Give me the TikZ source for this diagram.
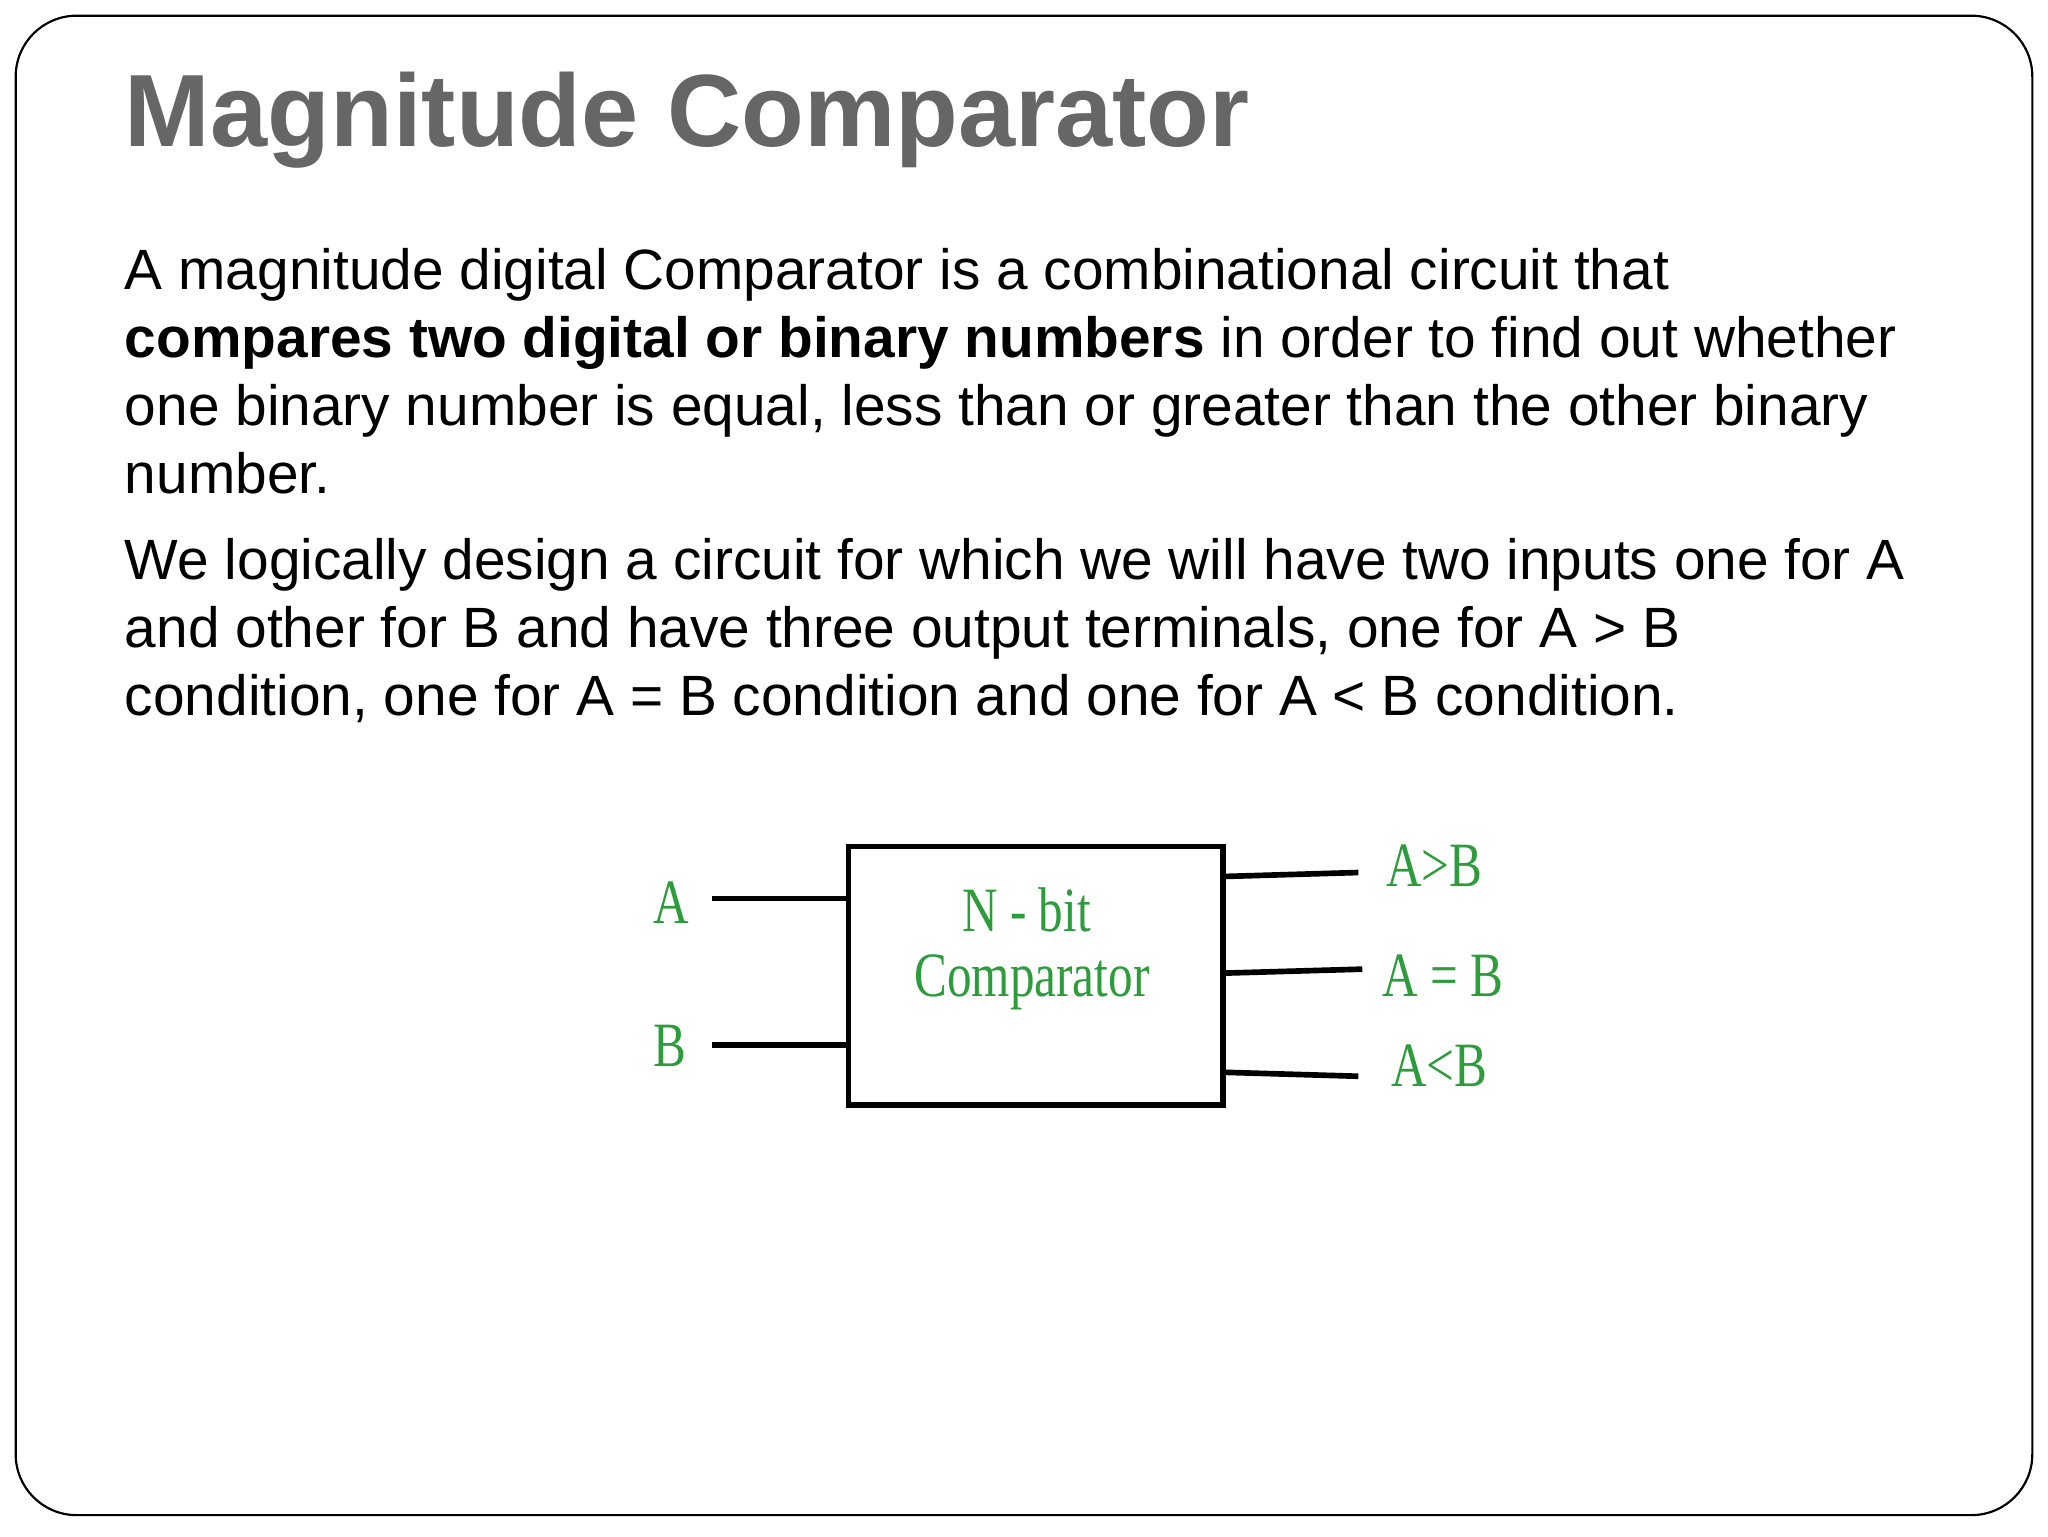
\documentclass[tikz,border=0pt]{standalone}
\usepackage{fontspec}
\setmainfont{Liberation Sans}
\newfontfamily\serifgreen{Liberation Serif}
\definecolor{titlegray}{HTML}{666666}
\definecolor{labgreen}{HTML}{2E9B3C}
\newcommand{\cond}[1]{\scalebox{0.78}[1]{#1}}
\begin{document}
\begin{tikzpicture}[x=0.3pt,y=-0.3pt,
  body/.style={anchor=base west,inner sep=0pt,font=\fontsize{13.05}{16}\selectfont},
  wire/.style={line width=1.3pt},
  glab/.style={text=labgreen,font=\serifgreen\fontsize{14.5}{16}\selectfont,inner sep=0pt}]
\useasboundingbox (0,0) rectangle (1568,1176);
\draw[line width=0.5pt,rounded corners=14pt] (12,12) rectangle (1556,1160);
\node[anchor=base west,inner sep=0pt,text=titlegray,font=\fontsize{23.6}{28}\selectfont\bfseries] (title) at (95,112) {Magnitude Comparator};
\node[body] (l1) at (95,222) {A magnitude digital Comparator is a combinational circuit that};
\node[body] (l2) at (95,274) {\textbf{compares two digital or binary numbers} in order to find out whether};
\node[body] (l3) at (95,326) {one binary number is equal, less than or greater than the other binary};
\node[body] (l4) at (95,378) {number.};
\node[body] (l5) at (95,444) {We logically design a circuit for which we will have two inputs one for A};
\node[body] (l6) at (95,496) {and other for B and have three output terminals, one for A > B};
\node[body] (l7) at (95,548) {condition, one for A = B condition and one for A < B condition.};
\node[draw,line width=1.3pt,minimum width=86pt,minimum height=59.4pt,inner sep=0pt] (box) at (793,747) {};
\node[glab] (nb) at (786,697) {\cond{N - bit}};
\node[glab] (cmp) at (790,752) {\cond{Comparator}};
\node[glab] (A) at (514,691) {\cond{A}};
\node[glab] (B) at (513,801) {\cond{B}};
\node[glab] (gt) at (1098,663) {\cond{A>B}};
\node[glab] (eq) at (1105,747) {\cond{A = B}};
\node[glab] (lt) at (1102,816) {\cond{A<B}};
\coordinate (ai) at (545,688); \coordinate (bi) at (545,800);
\coordinate (o1) at (1040,668); \coordinate (o2) at (1043,742); \coordinate (o3) at (1040,824);
\draw[wire] (ai) -- (ai -| box.west);
\draw[wire] (bi) -- (bi -| box.west);
\draw[wire] (box.east |- 0,671) -- (o1);
\draw[wire] (box.east |- 0,745) -- (o2);
\draw[wire] (box.east |- 0,821) -- (o3);
\end{tikzpicture}
\end{document}
